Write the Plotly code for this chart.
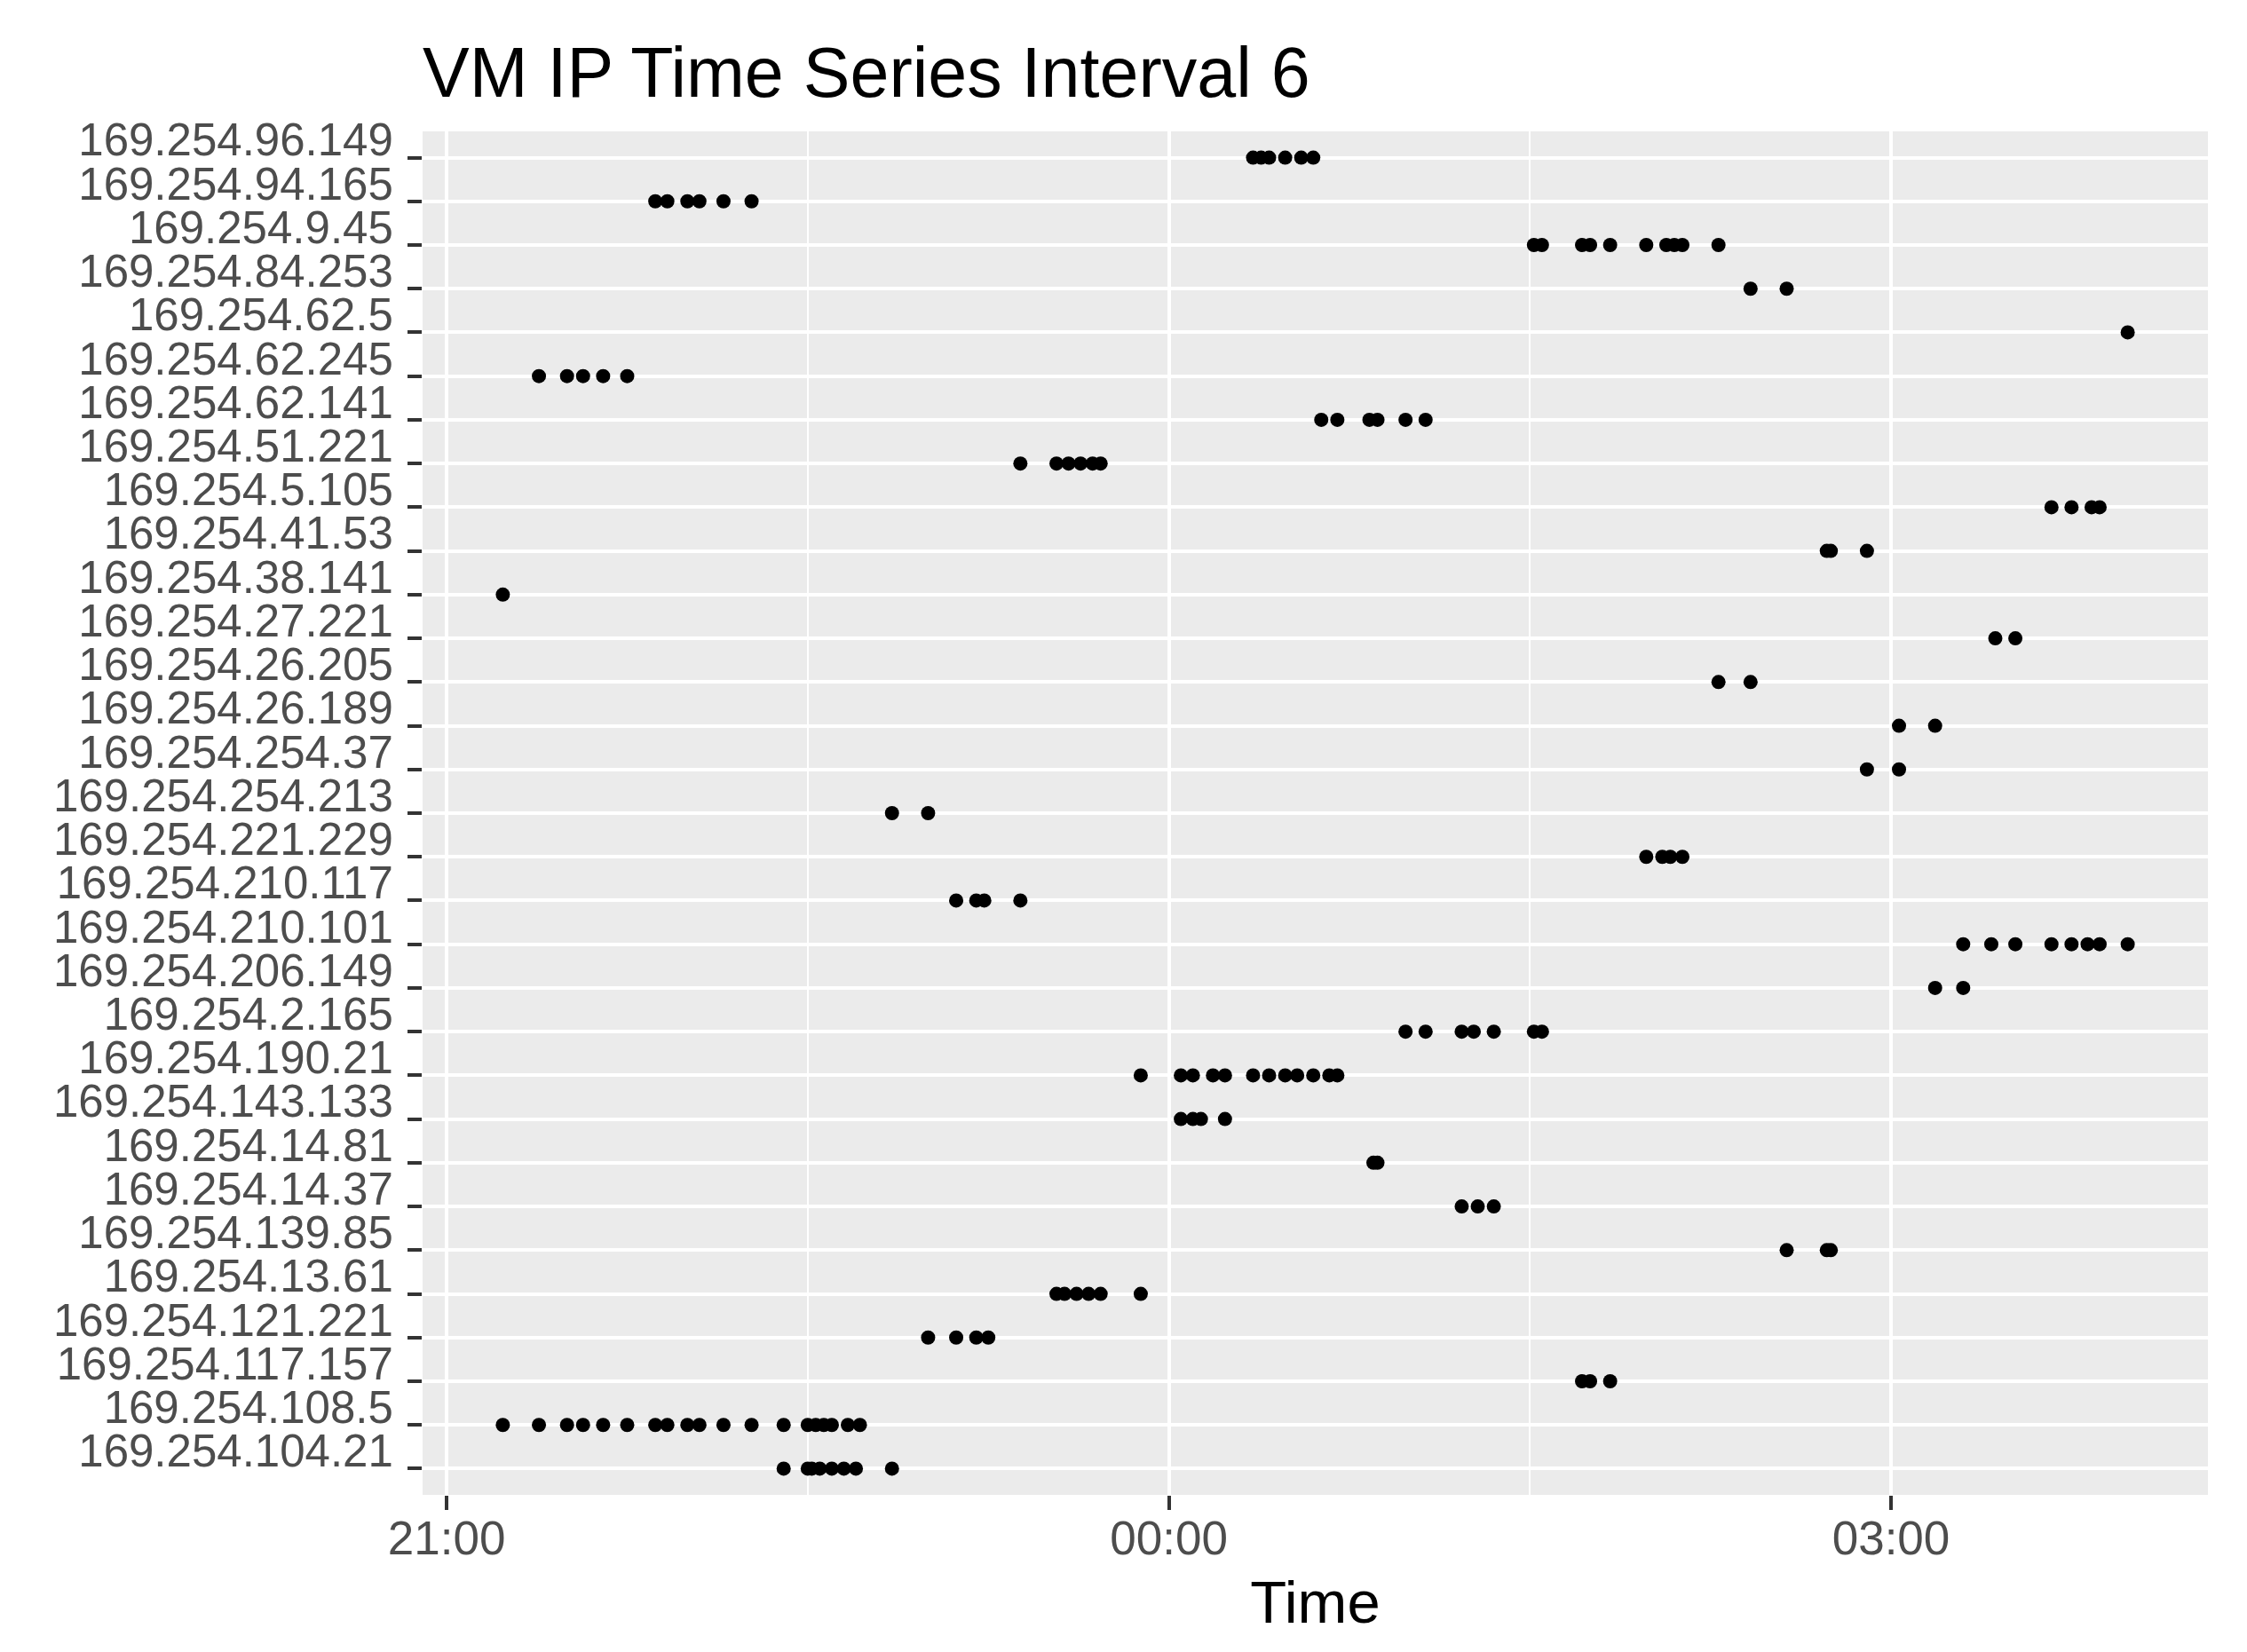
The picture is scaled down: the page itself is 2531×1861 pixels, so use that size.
import plotly.graph_objects as go

# IPs from the top of the chart to the bottom
ips = [
    "169.254.96.149", "169.254.94.165", "169.254.9.45", "169.254.84.253",
    "169.254.62.5", "169.254.62.245", "169.254.62.141", "169.254.51.221",
    "169.254.5.105", "169.254.41.53", "169.254.38.141", "169.254.27.221",
    "169.254.26.205", "169.254.26.189", "169.254.254.37", "169.254.254.213",
    "169.254.221.229", "169.254.210.117", "169.254.210.101", "169.254.206.149",
    "169.254.2.165", "169.254.190.21", "169.254.143.133", "169.254.14.81",
    "169.254.14.37", "169.254.139.85", "169.254.13.61", "169.254.121.221",
    "169.254.117.157", "169.254.108.5", "169.254.104.21",
]

# times each IP was seen (same order as ips)
times = [
    ["00:21", "00:23", "00:25", "00:29", "00:33", "00:36"],
    ["21:52", "21:55", "22:00", "22:03", "22:09", "22:16"],
    ["01:31", "01:33", "01:43", "01:45", "01:50", "01:59", "02:04", "02:06", "02:08", "02:17"],
    ["02:25", "02:34"],
    ["03:59"],
    ["21:23", "21:30", "21:34", "21:39", "21:45"],
    ["00:38", "00:42", "00:50", "00:52", "00:59", "01:04"],
    ["23:23", "23:32", "23:35", "23:38", "23:41", "23:43"],
    ["03:40", "03:45", "03:50", "03:52"],
    ["02:44", "02:45", "02:54"],
    ["21:14"],
    ["03:26", "03:31"],
    ["02:17", "02:25"],
    ["03:02", "03:11"],
    ["02:54", "03:02"],
    ["22:51", "23:00"],
    ["01:59", "02:03", "02:05", "02:08"],
    ["23:07", "23:12", "23:14", "23:23"],
    ["03:18", "03:25", "03:31", "03:40", "03:45", "03:49", "03:52", "03:59"],
    ["03:11", "03:18"],
    ["00:59", "01:04", "01:13", "01:16", "01:21", "01:31", "01:33"],
    ["23:53", "00:03", "00:06", "00:11", "00:14", "00:21", "00:25", "00:29",
     "00:32", "00:36", "00:40", "00:42"],
    ["00:03", "00:06", "00:08", "00:14"],
    ["00:51", "00:52"],
    ["01:13", "01:17", "01:21"],
    ["02:34", "02:44", "02:45"],
    ["23:32", "23:34", "23:37", "23:40", "23:43", "23:53"],
    ["23:00", "23:07", "23:12", "23:15"],
    ["01:43", "01:45", "01:50"],
    ["21:14", "21:23", "21:30", "21:34", "21:39", "21:45", "21:52", "21:55", "22:00",
     "22:03", "22:09", "22:16", "22:24", "22:30", "22:32", "22:34", "22:36", "22:40", "22:43"],
    ["22:24", "22:30", "22:31", "22:33", "22:36", "22:39", "22:42", "22:51"],
]


def stamp(hhmm):
    # evening hours belong to the first day, early hours to the next one
    day = "2020-01-01" if int(hhmm[:2]) >= 12 else "2020-01-02"
    return day + " " + hhmm


xs, ys = [], []
for ip, tt in zip(ips, times):
    for t in tt:
        xs.append(stamp(t))
        ys.append(ip)

fig = go.Figure()
fig.add_trace(go.Scatter(
    x=xs,
    y=ys,
    mode="markers",
    marker=dict(color="black", size=16, line=dict(width=0)),
    hovertemplate="%{y}<br>%{x|%H:%M}<extra></extra>",
))

font = "Liberation Sans, Arial, sans-serif"
fig.update_layout(
    width=2531,
    height=1861,
    paper_bgcolor="white",
    plot_bgcolor="#EBEBEB",
    showlegend=False,
    margin=dict(l=468, r=52, t=140, b=185),
    title=dict(
        text="VM IP Time Series Interval 6",
        font=dict(family=font, size=79, color="black"),
        x=0, xref="paper", xanchor="left",
        y=1 - 73 / 1861, yref="container", yanchor="middle",
    ),
    xaxis=dict(
        type="date",
        range=["2020-01-01 20:54", "2020-01-02 04:19"],
        tick0="2020-01-01 21:00",
        dtick=3 * 3600 * 1000,
        tickformat="%H:%M",
        showgrid=True, gridcolor="white", gridwidth=4,
        minor=dict(tick0="2020-01-01 22:30", dtick=3 * 3600 * 1000,
                   showgrid=True, gridcolor="white", gridwidth=2),
        zeroline=False,
        ticks="outside", ticklen=16, tickwidth=4, tickcolor="#333333",
        tickfont=dict(family=font, size=53, color="#4D4D4D"),
        ticklabelstandoff=-14,
        title=dict(text="Time", font=dict(family=font, size=67, color="black"), standoff=20),
    ),
    yaxis=dict(
        type="category",
        categoryorder="array",
        categoryarray=ips[::-1],
        tickmode="linear", tick0=0, dtick=1,
        range=[-0.6, len(ips) - 0.4],
        showgrid=True, gridcolor="white", gridwidth=4,
        zeroline=False,
        ticks="outside", ticklen=16, tickwidth=4, tickcolor="#333333",
        tickfont=dict(family=font, size=51, color="#4D4D4D"),
        ticklabelshift=-20,
        ticklabelstandoff=6,
    ),
)

fig.write_html("out.html")
